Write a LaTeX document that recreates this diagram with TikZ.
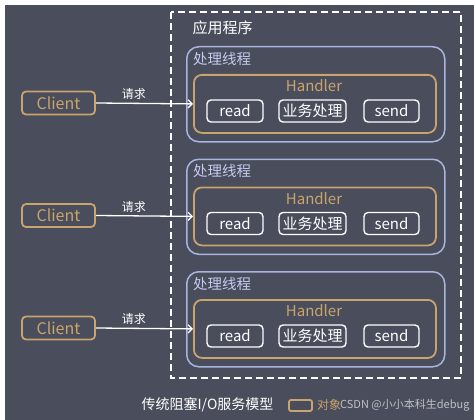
\documentclass[tikz,border=0pt]{standalone}
\usepackage{fontspec}
\setmainfont{Noto Sans CJK SC}
\usetikzlibrary{arrows.meta, positioning}
\definecolor{bioBg}{HTML}{4A4D5B}
\definecolor{bioGold}{HTML}{C9A46C}
\definecolor{bioLilac}{HTML}{A9B5E0}
\definecolor{bioLabel}{HTML}{C4CBEE}

\begin{document}
\begin{tikzpicture}[x=1pt, y=-1pt, font=\fontsize{15}{17}\selectfont,
  threadbox/.style={draw=bioLilac, line width=1.5pt, rounded corners=12pt,
    minimum width=258pt, minimum height=95pt, inner sep=0pt, anchor=north west},
  handlerbox/.style={draw=bioGold, line width=1.8pt, rounded corners=8pt,
    minimum width=242pt, minimum height=58pt, inner sep=0pt, anchor=north west},
  opbox/.style={draw=white, line width=1.4pt, rounded corners=4pt,
    minimum height=22pt, inner sep=0pt, text=white},
  clientbox/.style={draw=bioGold, line width=1.8pt, rounded corners=4pt,
    minimum width=73pt, minimum height=23pt, inner sep=0pt, text=bioGold,
    font=\fontsize{16}{18}\selectfont},
  reqarrow/.style={draw=white, line width=1.3pt, -{Straight Barb[length=4pt, width=8pt]}}]
  \useasboundingbox (0,0) rectangle (474,420);
  \fill[white] (0,0) rectangle (474,420);
  \fill[bioBg] (5,5) rectangle (474,420);

  % application frame
  \draw[white, line width=1.5pt, dash pattern=on 7pt off 4pt] (171,12) rectangle (461,378);
  \node[anchor=west, text=white, font=\fontsize{15}{17}\selectfont] (app) at (189,28) {应用程序};

  % three request / thread rows
  \foreach \i/\top in {1/46, 2/158.5, 3/271} {
    \node[threadbox] (thread\i) at (186,\top) {};
    \node[anchor=north west, text=bioLabel, inner sep=0pt,
      font=\fontsize{14.5}{16}\selectfont] (tlabel\i) at ([shift={(7,6)}]thread\i.north west) {处理线程};
    \node[handlerbox] (handler\i) at (193,\top+28) {};
    \node[text=bioGold, inner sep=0pt] (htext\i) at (314,\top+40) {Handler};
    \node[opbox, minimum width=56pt] (read\i) at (235,\top+65) {read};
    \node[opbox, minimum width=67pt] (work\i) at (312.5,\top+65) {业务处理};
    \node[opbox, minimum width=55pt] (send\i) at (391.5,\top+65) {send};
    \node[clientbox] (client\i) at (58.5,\top+57) {Client};
    \draw[reqarrow] (client\i.east) -- node[pos=0.39, above=3pt, text=white, inner sep=0pt,
      font=\fontsize{12}{14}\selectfont] (req\i) {请求} (handler\i.west);
  }

  % legend
  \node[text=white, font=\fontsize{14}{16}\selectfont, inner sep=0pt] (title) at (207.5,405) {传统阻塞I/O服务模型};
  \draw[bioGold, line width=1.8pt, rounded corners=2pt] (289,400) rectangle (312,411);
  \node[anchor=west, text=bioGold, inner sep=0pt, font=\fontsize{12}{14}\selectfont] (obj) at (317,405) {对象};
  \node[anchor=west, text=white, opacity=0.65, inner sep=0pt,
    font=\fontsize{11}{13}\selectfont] (mark) at (340,405) {CSDN @小小本科生debug};
\end{tikzpicture}
\end{document}
